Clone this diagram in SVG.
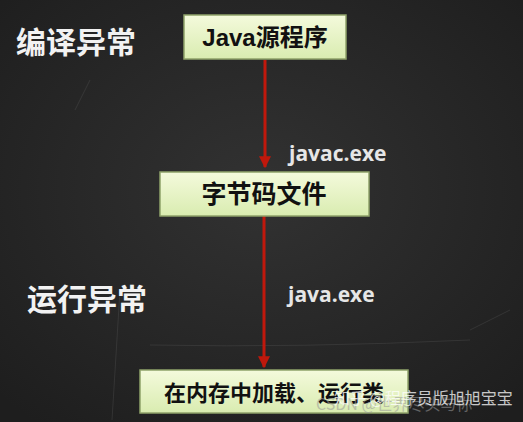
<svg xmlns="http://www.w3.org/2000/svg" width="523" height="422" viewBox="0 0 523 422">
<defs>
<radialGradient id="bg" cx="50%" cy="45%" r="70%">
<stop offset="0" stop-color="#323232"/>
<stop offset="1" stop-color="#1e1e1e"/>
</radialGradient>
<linearGradient id="box" x1="0" y1="0" x2="0" y2="1">
<stop offset="0" stop-color="#f4fadc"/>
<stop offset="1" stop-color="#d9ecb0"/>
</linearGradient>
<marker id="arr" viewBox="0 0 10 10" refX="9" refY="5" markerWidth="4" markerHeight="4" orient="auto" markerUnits="strokeWidth">
<path d="M0,0 L10,5 L0,10 z" fill="#c0180c"/>
</marker>
<style>
.box{fill:url(#box);stroke:#8fa26a;stroke-width:1.5}
.bt{font-family:"Liberation Sans","Noto Sans CJK SC",sans-serif;font-weight:bold;fill:#111;text-anchor:middle}
.lbl{font-family:"Liberation Sans","Noto Sans CJK SC",sans-serif;font-weight:bold;fill:#f2f2f2}
.cmd{font-family:"Open Sans","Liberation Sans",sans-serif;font-weight:bold;fill:#e6e6e6;font-size:21px}
.conn{stroke:#c0180c;stroke-width:3;fill:none}
.wm{font-family:"Noto Sans CJK SC",sans-serif;font-size:16px}
</style>
</defs>
<rect width="523" height="422" fill="url(#bg)"/>
<g stroke="#555" stroke-width="1" opacity="0.35" fill="none">
<path d="M90,80 L75,110"/>
<path d="M150,345 Q300,348 470,340"/>
<path d="M470,330 L510,310"/>
<path d="M120,290 L112,420"/>
</g>
<text class="lbl" x="16" y="53" font-size="30">编译异常</text>
<text class="lbl" x="27" y="310" font-size="30">运行异常</text>
<g id="connectors">
<line class="conn" x1="265" y1="60" x2="265" y2="167" marker-end="url(#arr)"/>
<line class="conn" x1="264" y1="216" x2="264" y2="367" marker-end="url(#arr)"/>
</g>
<text class="cmd" x="289" y="161">javac.exe</text>
<text class="cmd" x="288" y="302">java.exe</text>
<g id="n1">
<rect class="box" x="184" y="15" width="162" height="44"/>
<text class="bt" x="265" y="46" font-size="24">Java源程序</text>
</g>
<g id="n2">
<rect class="box" x="160" y="172" width="209" height="44"/>
<text class="bt" x="264" y="203" font-size="25">字节码文件</text>
</g>
<g id="n3">
<rect class="box" x="140" y="370" width="268" height="43"/>
<text class="bt" x="274" y="401" font-size="22">在内存中加载、运行类</text>
</g>
<text class="wm" x="316" y="410" fill="#9a9a9a" opacity="0.55">CSDN @世界尽头与你</text>
<text class="wm" x="334" y="404" fill="#ffffff" opacity="0.75">知乎 @程序员版旭旭宝宝</text>
</svg>
